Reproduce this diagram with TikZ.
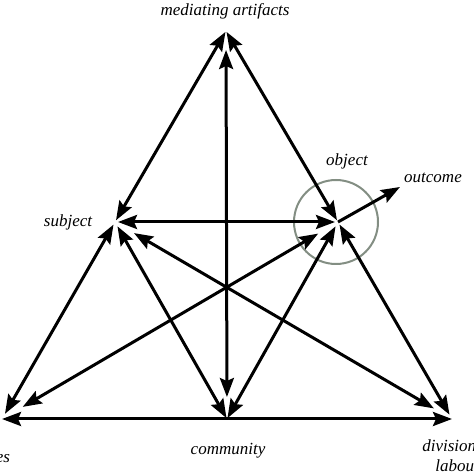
\documentclass[tikz,border=0pt]{standalone}
\usepackage{fontspec}
\setmainfont{Liberation Serif}
\usetikzlibrary{arrows.meta}
\begin{document}
\begin{tikzpicture}[x=1pt,y=1pt,
  conn/.style={line width=3pt,
    {Stealth[length=19pt,width=14pt,inset=3pt]}-{Stealth[length=19pt,width=14pt,inset=3pt]}},
  oneway/.style={line width=3pt, -{Stealth[length=19pt,width=14pt,inset=3pt]}},
  lbl/.style={font=\fontsize{17}{20}\selectfont\itshape, inner sep=0pt, align=center},
  ring/.style={draw=black!40!green!8!gray!90, line width=2pt}]
\useasboundingbox (0,0) rectangle (474,474);
\clip (0,0) rectangle (474,474);
% points
\coordinate (T) at (226,443);
\coordinate (S) at (115,252);
\coordinate (O) at (338,252);
\coordinate (BL) at (2,55);
\coordinate (C) at (227,55);
\coordinate (BR) at (452,55);
\coordinate (OUT) at (400,287);
% circle round object
\node[ring, circle, minimum size=84pt, inner sep=0pt] (ring) at (336,252) {};
% sides
\draw[conn, shorten <=1pt, shorten >=2pt] (T) -- (S);
\draw[conn, shorten <=1pt, shorten >=2pt] (T) -- (O);
\draw[conn, shorten <=3pt, shorten >=6pt] (S) -- (BL);
\draw[conn, shorten <=3pt, shorten >=5pt] (O) -- (BR);
\draw[conn] (BL) -- (BR);
\draw[conn, shorten <=3pt, shorten >=3pt] (S) -- (O);
% inner lines
\draw[conn, shorten <=19pt, shorten >=22pt] (T) -- (C);
\draw[conn, shorten <=5pt, shorten >=1pt] (S) -- (C);
\draw[conn, shorten <=5pt, shorten >=1pt] (O) -- (C);
\draw[conn, shorten <=22pt, shorten >=21pt] (S) -- (BR);
\draw[conn, shorten <=23pt, shorten >=24pt] (O) -- (BL);
\draw[oneway] (O) -- (OUT);
% labels
\node[lbl] (lT) at (225,463) {mediating artifacts};
\node[lbl] (lS) at (68,252) {subject};
\node[lbl] (lO) at (347,313) {object};
\node[lbl] (lOut) at (433,296) {outcome};
\node[lbl] (lC) at (228,23) {community};
\node[lbl] (lBR) at (458,18) {division of\\labour};
\node[lbl] (lBL) at (-7,17) {rules};
\end{tikzpicture}
\end{document}
